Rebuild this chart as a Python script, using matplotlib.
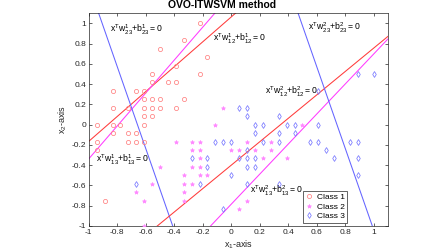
import numpy as np
import matplotlib
matplotlib.use("Agg")
import matplotlib.pyplot as plt

plt.rcParams['font.family'] = ['Liberation Sans', 'DejaVu Sans']
plt.rcParams['mathtext.fontset'] = 'custom'
plt.rcParams['mathtext.rm'] = 'Liberation Sans'
plt.rcParams['mathtext.it'] = 'Liberation Sans'

# ---------------- data ----------------
class1_x = [-0.944, -0.833, -0.833, -0.778, -0.833, -0.722, -0.667, -0.611, -0.611, -0.611,
            -0.611, -0.611, -0.556, -0.556, -0.556, -0.556, -0.556, -0.5, -0.5, -0.5,
            -0.444, -0.389, -0.389, -0.389, -0.333, -0.333, -0.222, -0.222, -0.167,
            -0.833, -0.722, -0.667, -0.944, -0.722, -0.667, -0.611, -0.944, -0.889]
class1_y = [0.0, 0.333, 0.167, 0.0, 0.0, 0.167, 0.333, 0.333, 0.25, 0.167,
            0.083, 0.0, 0.5, 0.417, 0.25, 0.167, 0.083, 0.75, 0.25, 0.167,
            0.417, 0.417, 0.583, 0.167, 0.833, 0.25, 1.0, 0.5, 0.667,
            -0.083, -0.083, -0.083, -0.167, -0.167, -0.167, -0.167, -0.25, -0.75]

class2_x = [-0.111, -0.056, 0.5,
            -0.389, -0.278, -0.222, 0.111, 0.278,
            -0.278, -0.222, 0.0, 0.056, 0.167, 0.278,
            -0.222, 0.222, 0.389,
            -0.5, -0.278, -0.222,
            -0.333, -0.222, -0.167,
            -0.556, -0.333, -0.278,
            -0.667, -0.333,
            -0.611, -0.333, 0.111,
            0.056, -0.611]
class2_y = [0.0, 0.167, 0.0,
            -0.167, -0.167, -0.167, -0.167, -0.167,
            -0.25, -0.25, -0.25, -0.25, -0.25, -0.25,
            -0.333, -0.333, -0.333,
            -0.417, -0.417, -0.417,
            -0.5, -0.5, -0.5,
            -0.583, -0.583, -0.583,
            -0.667, -0.667,
            -0.75, -0.75, -0.75,
            -0.833, -1.0]

class3_x = [0.056, 0.111, 0.111, 0.333, 0.611, 0.889, 1.0,
            0.167, 0.222, 0.389, 0.444, 0.611,
            0.167, 0.333, 0.444,
            -0.111, -0.056, 0.0, 0.222, 0.333, 0.556, 0.611, 0.833, 0.889,
            0.111, 0.667,
            -0.278, -0.167, 0.056, 0.111, 0.167, 0.722, 0.889,
            -0.167, 0.111, 0.167,
            0.0, 0.889,
            -0.667, -0.222, 0.111, 0.333,
            -0.056]
class3_y = [0.167, 0.167, 0.083, 0.083, 0.333, 0.5, 0.5,
            0.0, 0.0, 0.0, 0.0, 0.0,
            -0.083, -0.083, -0.083,
            -0.167, -0.167, -0.167, -0.167, -0.167, -0.167, -0.167, -0.167, -0.167,
            -0.25, -0.25,
            -0.333, -0.333, -0.333, -0.333, -0.333, -0.333, -0.333,
            -0.417, -0.417, -0.417,
            -0.5, -0.5,
            -0.583, -0.583, -0.583, -0.583,
            -0.833]

# hyperplanes  w1*x + w2*y + b = 0
plane_names = ['12_1', '13_1', '23_1', '12_2', '13_2', '23_2']
plane_w1 = [-1.228, -1.625, 1.0, -1.156, -1.483, 1.0]
plane_w2 = [1.0, 1.0, 0.2475, 1.0, 1.0, 0.248]
plane_b = [-1.063, -1.287, 0.658, 0.400, 0.785, -0.742]
plane_colors = ['#ff3b3b', '#ff3bff', '#6464ff', '#ff3b3b', '#ff3bff', '#6464ff']

labels_text = [r'$\mathrm{x^Tw^1_{12}{+}b^1_{12}{=}0}$',
               r'$\mathrm{x^Tw^1_{13}{+}b^1_{13}{=}0}$',
               r'$\mathrm{x^Tw^1_{23}{+}b^1_{23}{=}0}$',
               r'$\mathrm{x^Tw^2_{12}{+}b^2_{12}{=}0}$',
               r'$\mathrm{x^Tw^2_{13}{+}b^2_{13}{=}0}$',
               r'$\mathrm{x^Tw^2_{23}{+}b^2_{23}{=}0}$']
labels_x = [-0.127, -0.951, -0.85, 0.236, 0.130, 0.539]
labels_y = [0.846, -0.349, 0.94, 0.323, -0.655, 0.955]

xticks = [-1, -0.8, -0.6, -0.4, -0.2, 0, 0.2, 0.4, 0.6, 0.8, 1]
yticks = [-1, -0.8, -0.6, -0.4, -0.2, 0, 0.2, 0.4, 0.6, 0.8, 1]
tick_labels = ['-1', '-0.8', '-0.6', '-0.4', '-0.2', '0', '0.2', '0.4', '0.6', '0.8', '1']

# ---------------- figure ----------------
fig = plt.figure(figsize=(4.48, 2.52), dpi=100)
ax = fig.add_axes([88.7 / 448, 1 - 226 / 252, (388 - 88.7) / 448, (226 - 13.2) / 252])
ax.set_xlim(-1, 1.1)
ax.set_ylim(-1, 1.1)

xs = np.array([-1.0, 1.1])
for w1, w2, b, c in zip(plane_w1, plane_w2, plane_b, plane_colors):
    ys = -(w1 * xs + b) / w2
    ax.plot(xs, ys, color=c, lw=0.75, zorder=2)

ax.plot(class1_x, class1_y, 'o', mfc='none', mec='#ff8080', ms=3.0, mew=0.55,
        linestyle='none', label='Class 1', zorder=3)
ax.plot(class2_x, class2_y, '*', color='#ff88ff', ms=3.0, mew=0.5,
        linestyle='none', label='Class 2', zorder=3)
ax.plot(class3_x, class3_y, 'd', mfc='none', mec='#7878ff', ms=3.0, mew=0.55,
        linestyle='none', label='Class 3', zorder=3)

for t, x, y in zip(labels_text, labels_x, labels_y):
    ax.text(x, y, t, fontsize=6.2, ha='left', va='center', color='black', zorder=4)

ax.set_xticks(xticks)
ax.set_xticklabels(tick_labels)
ax.set_yticks(yticks)
ax.set_yticklabels(tick_labels)
ax.tick_params(direction='in', length=2.5, width=0.5, labelsize=6, top=True, right=True,
               colors='#262626', pad=2)
for s in ax.spines.values():
    s.set_linewidth(0.5)
    s.set_color('#262626')

ax.set_xlabel(r'x$_1$-axis', fontsize=6.5, labelpad=2, color='#262626')
ax.set_ylabel(r'x$_2$-axis', fontsize=6.5, labelpad=2, color='#262626')
fig.text(221.7 / 448, 1 - 5 / 252, 'OVO-ITWSVM method', fontsize=7.5, fontweight='bold',
         ha='center', va='center')

leg = ax.legend(loc='lower right', bbox_to_anchor=(0.864, 0.0155), borderaxespad=0,
                fontsize=6, handlelength=0.9, handletextpad=0.5, labelspacing=0.22,
                borderpad=0.3, fancybox=False, framealpha=1)
leg.get_frame().set_edgecolor('#262626')
leg.get_frame().set_linewidth(0.5)

fig.savefig('out.png', dpi=100)
